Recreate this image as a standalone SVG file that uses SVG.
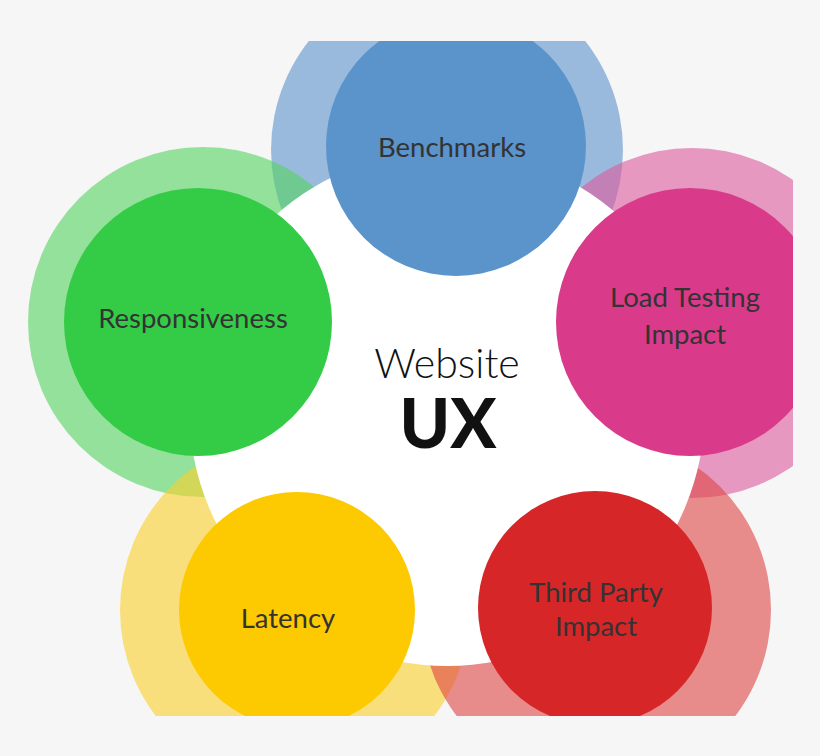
<svg xmlns="http://www.w3.org/2000/svg" width="820" height="756" viewBox="0 0 820 756">
<style>
.o{opacity:0.6}
.t{font-family:Lato,"Open Sans",sans-serif;font-size:27.5px;fill:#333;text-anchor:middle}
</style>
<defs><clipPath id="c"><rect x="0" y="41" width="793" height="675"/></clipPath></defs>
<rect width="820" height="756" fill="#f6f6f6"/>
<g clip-path="url(#c)">
<g id="rings">
<circle class="o" cx="447" cy="150" r="176" fill="#5b93cb"/>
<circle class="o" cx="203" cy="322" r="175" fill="#53d45f"/>
<circle class="o" cx="692" cy="323" r="175" fill="#dd5a9d"/>
<circle class="o" cx="295" cy="610" r="175" fill="#fbd02c"/>
<circle class="o" cx="596" cy="610" r="175" fill="#de4444"/>
</g>
<g id="center">
<circle cx="447" cy="408" r="258" fill="#fff"/>
<text x="447" y="378" font-family="Lato,'Open Sans',sans-serif" font-size="41" font-weight="300" text-anchor="middle" fill="#111">Website</text>
<text x="448" y="448" font-family="Lato,'Open Sans',sans-serif" font-size="68" font-weight="900" text-anchor="middle" fill="#111">UX</text>
</g>
<g id="benchmarks"><circle cx="456" cy="146" r="130" fill="#5b93cb"/><text class="t" x="452" y="157">Benchmarks</text></g>
<g id="responsiveness"><circle cx="198" cy="322" r="134" fill="#34cc47"/><text class="t" x="193" y="328">Responsiveness</text></g>
<g id="load"><circle cx="690" cy="322" r="134" fill="#d93a8a"/><text class="t" x="685" y="307">Load Testing</text><text class="t" x="685" y="344">Impact</text></g>
<g id="latency"><circle cx="297" cy="610" r="118" fill="#fdc900"/><text class="t" x="288" y="628">Latency</text></g>
<g id="third"><circle cx="595" cy="608" r="117" fill="#d62628"/><text class="t" x="596" y="602">Third Party</text><text class="t" x="596" y="636">Impact</text></g>
</g>
</svg>
